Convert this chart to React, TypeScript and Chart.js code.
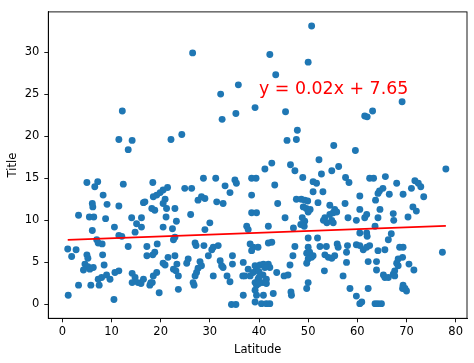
import { useEffect, useRef } from "react";
import { Chart, registerables } from "chart.js";

Chart.register(...registerables);

// Latitude (x) of each city, row bands from top to bottom
const LATITUDE = [
  12.2, 11.5, 14.2, 13.4, 26.5, 32.2, 35.8, 32.5, 35.3, 39.2, 22.1, 24.3, 50.7, 42.2, 50.0, 43.4, 45.4, 61.5, 47.8, 45.7, 47.6, 55.2, 59.6, 52.2, 42.6, 41.2, 46.4, 47.3, 52.7, 54.8, 56.2, 69.1, 62.0, 63.1, 78.0,
  5.0, 7.2, 6.6, 12.4, 18.4, 28.7, 31.2, 35.1, 35.4, 38.5, 33.1, 39.4, 48.9, 57.6, 43.2, 51.0, 51.7, 58.3, 62.5, 63.3, 65.7, 68.0, 71.7, 72.4, 72.9, 71.0,
  8.3, 19.2, 18.5, 19.9, 20.5, 21.4, 20.9, 20.5, 24.9, 26.3, 34.1, 38.5, 28.3, 29.0, 27.6, 16.5, 16.8, 6.1, 9.1, 31.4, 32.7, 51.0, 53.0, 47.6, 48.6, 49.3, 49.9, 43.8, 52.0, 57.5, 64.5, 65.2, 64.2, 66.5, 69.3, 73.5, 63.7, 60.5,
  6.2, 11.5, 18.2, 18.8, 21.2, 22.9, 3.3, 5.5, 6.4, 8.8, 14.1, 16.1, 21.1, 26.1, 38.5, 39.5, 49.0, 49.6, 50.4, 50.0, 54.4, 55.4, 55.8, 55.1, 54.4, 60.5, 64.6, 71.3, 72.0, 45.3, 48.8, 49.3, 53.4, 53.1, 58.1, 59.8, 61.5, 61.9, 64.2, 67.3, 67.4, 70.3,
  6.1, 10.6, 11.5, 12.1, 15.1, 16.1, 14.8, 23.2, 20.5, 22.4, 30.0, 29.0, 37.5, 37.8, 48.5, 49.2, 53.8, 54.8, 55.1, 41.9, 47.0, 50.0, 51.9, 63.6, 66.9, 60.5, 61.9, 62.0,
  7.0, 7.3, 8.1, 1.1, 2.8, 13.4, 17.2, 22.9, 22.6, 27.0, 27.2, 28.8, 30.4, 31.7, 30.7, 19.3, 18.8, 38.2, 38.8, 38.5, 50.0, 52.4, 53.7, 55.9, 56.1, 58.0, 59.8, 39.8, 41.9, 42.6, 47.3, 49.7, 50.3, 57.8, 66.3, 60.5, 61.2, 61.9, 62.5, 64.2, 65.6, 68.6, 69.3, 77.3,
  1.9, 5.0, 5.2, 8.2, 17.2, 8.5, 4.6, 5.2, 4.3, 5.6, 6.3, 10.7, 11.5, 29.7, 18.4, 21.5, 20.9, 20.5, 22.9, 23.3, 22.6, 23.1, 25.3, 25.6, 28.0, 28.3, 27.6, 32.1, 32.4, 32.7, 34.6, 34.6, 36.8, 37.8, 39.5, 46.9, 50.7, 50.0, 51.0, 53.4, 54.1, 54.8, 55.4, 57.8, 49.7, 39.2, 40.2, 40.9, 41.9, 42.2, 41.2, 46.3, 53.3, 69.2, 68.3, 68.0, 68.3, 67.6, 70.5, 71.5, 62.2, 63.9, 63.9,
  7.3, 8.0, 9.0, 9.7, 5.8, 3.3, 7.5, 1.2, 10.5, 14.2, 14.8, 15.4, 14.2, 16.0, 16.5, 17.8, 18.3, 23.6, 27.3, 27.0, 26.6, 26.8, 33.5, 34.1, 30.7, 38.2, 38.8, 37.1, 36.7, 39.2, 39.5, 39.8, 18.5, 19.2, 18.0, 19.7, 23.6, 36.8, 34.4, 35.3, 39.2, 39.5, 39.2, 43.6, 45.1, 45.9, 40.0, 40.8, 41.5, 40.0, 40.8, 40.0, 41.5, 57.1, 50.0, 49.7, 46.5, 46.6, 42.9, 40.9, 40.5, 41.5, 42.2, 58.5, 59.8, 60.9, 65.3, 65.6, 66.3, 67.3, 67.6, 62.2, 69.3, 69.7, 70.0, 69.2, 60.5, 63.6, 64.2, 64.9,
];

// Value (y) of each city, same order as LATITUDE
const VALUE = [
  23.0, 19.6, 19.5, 18.4, 29.9, 25.0, 26.1, 22.0, 22.7, 23.4, 19.6, 20.2, 33.1, 29.7, 28.8, 27.3, 22.9, 22.4, 20.7, 19.5, 19.6, 18.9, 18.3, 17.2, 16.8, 16.1, 16.6, 15.9, 15.5, 15.9, 16.4, 24.1, 22.3, 23.0, 16.1,
  14.5, 14.6, 14.0, 14.3, 14.5, 15.0, 15.0, 14.8, 14.4, 15.0, 14.1, 15.0, 15.1, 15.1, 14.2, 14.6, 14.4, 14.5, 15.0, 15.0, 15.2, 14.4, 14.7, 14.4, 14.0, 13.8,
  13.0, 13.0, 12.8, 13.3, 13.6, 13.9, 12.5, 12.0, 13.8, 13.8, 13.3, 13.0, 12.8, 12.6, 12.4, 12.1, 12.2, 12.0, 11.9, 12.2, 12.0, 13.4, 13.4, 12.5, 12.5, 12.4, 12.3, 12.0, 12.1, 12.0, 13.5, 13.8, 13.2, 13.1, 13.1, 12.8, 12.4, 12.9,
  11.6, 11.7, 11.4, 11.2, 11.4, 11.4, 10.6, 10.4, 10.4, 10.2, 10.3, 10.3, 10.4, 10.7, 10.9, 10.9, 11.6, 11.4, 11.3, 11.0, 11.8, 11.3, 11.0, 10.9, 10.7, 11.3, 11.3, 11.6, 11.1, 10.3, 10.3, 9.9, 10.3, 10.0, 10.3, 10.0, 10.3, 10.7, 10.3, 10.8, 10.0, 10.4,
  8.8, 9.2, 8.2, 8.1, 9.6, 9.2, 8.6, 9.9, 9.2, 9.0, 9.7, 8.9, 9.3, 8.9, 9.5, 9.3, 9.7, 10.0, 9.7, 9.3, 9.1, 7.9, 7.9, 9.3, 8.4, 8.5, 8.5, 8.1,
  7.7, 7.3, 7.2, 6.6, 6.5, 6.9, 6.9, 8.0, 7.7, 7.3, 7.0, 7.0, 6.5, 7.0, 6.8, 7.2, 6.2, 7.2, 6.8, 6.4, 6.8, 6.9, 6.9, 7.2, 6.8, 7.0, 7.1, 6.8, 7.3, 7.4, 6.9, 6.1, 6.2, 6.2, 7.7, 7.0, 6.5, 6.8, 7.0, 6.4, 6.5, 6.8, 6.8, 6.2,
  5.7, 5.9, 5.5, 5.9, 5.8, 4.7, 4.8, 4.5, 4.1, 4.2, 4.4, 3.8, 4.0, 5.8, 5.9, 5.6, 4.7, 4.9, 5.8, 4.8, 4.2, 4.0, 4.9, 5.4, 5.1, 4.6, 4.3, 5.2, 4.6, 4.4, 5.8, 4.8, 5.0, 4.2, 4.2, 5.8, 5.6, 5.4, 5.8, 5.9, 5.6, 5.5, 5.8, 5.0, 4.9, 4.6, 4.7, 4.8, 4.8, 4.4, 4.4, 4.7, 4.0, 5.6, 5.4, 4.9, 4.6, 4.0, 4.8, 4.1, 5.1, 5.1, 4.1,
  3.0, 3.2, 3.5, 3.0, 2.3, 2.3, 2.3, 1.1, 0.6, 3.7, 3.2, 2.6, 2.6, 2.5, 3.0, 2.3, 2.6, 3.4, 3.8, 3.4, 2.6, 2.3, 3.4, 2.7, 3.4, 3.4, 3.8, 3.4, 3.4, 2.6, 2.3, 3.0, 3.4, 3.8, 2.6, 1.4, 1.8, 1.1, 0.0, 0.0, 0.3, 1.1, 1.7, 3.8, 3.4, 3.5, 3.9, 3.5, 3.0, 3.2, 2.6, 2.5, 2.5, 3.4, 2.6, 1.9, 1.5, 1.1, 1.3, 1.1, 0.1, 0.1, 0.1, 1.9, 1.0, 0.3, 3.5, 3.2, 3.2, 3.6, 3.4, 1.9, 2.3, 1.9, 1.6, 1.9, 0.1, 0.1, 0.1, 0.1,
];

const X_TICKS = [0, 10, 20, 30, 40, 50, 60, 70, 80];
const Y_TICKS = [0, 5, 10, 15, 20, 25, 30];
const X_RANGE = [-2.85, 82.3];
const Y_RANGE = [-1.64, 34.77];

const SLOPE = 0.0216;
const INTERCEPT = 7.65;
const EQUATION = "y = 0.02x + 7.65";
const EQUATION_AT = [40, 25];

const X_LABEL = "Latitude";
const Y_LABEL = "Title";

const FONT = "'DejaVu Sans', sans-serif";

export default function App() {
  const ref = useRef<HTMLCanvasElement | null>(null);

  useEffect(() => {
    document.body.style.margin = "0";
    if (!ref.current) return;

    const points = LATITUDE.map((x, i) => ({ x, y: VALUE[i] }));
    const xMin = Math.min(...LATITUDE);
    const xMax = Math.max(...LATITUDE);
    const linePts = [
      { x: xMin, y: SLOPE * xMin + INTERCEPT },
      { x: xMax, y: SLOPE * xMax + INTERCEPT },
    ];

    const framePlugin = {
      id: "frame",
      afterDraw(chart: any) {
        const { ctx, chartArea } = chart;
        const { left, top, right, bottom } = chartArea;
        ctx.save();
        ctx.strokeStyle = "#000";
        ctx.lineWidth = 0.9;
        ctx.strokeRect(left, top, right - left, bottom - top);
        ctx.restore();
      },
    };

    const textPlugin = {
      id: "equation",
      afterDatasetsDraw(chart: any) {
        const { ctx, scales } = chart;
        const px = scales.x.getPixelForValue(EQUATION_AT[0]);
        const py = scales.y.getPixelForValue(EQUATION_AT[1]);
        ctx.save();
        ctx.font = `17.4px ${FONT}`;
        ctx.fillStyle = "red";
        ctx.textAlign = "left";
        ctx.textBaseline = "alphabetic";
        ctx.fillText(EQUATION, px, py);
        ctx.restore();
      },
    };

    const tickFont = { family: FONT, size: 11.5 };

    const chart = new Chart(ref.current, {
      type: "scatter",
      data: {
        datasets: [
          {
            type: "scatter",
            data: points,
            backgroundColor: "#1f77b4",
            borderWidth: 0,
            pointRadius: 3.45,
            pointHoverRadius: 3.45,
            order: 2,
          },
          {
            type: "line",
            data: linePts,
            borderColor: "red",
            borderWidth: 1.7,
            pointRadius: 0,
            fill: false,
            order: 1,
          } as any,
        ],
      },
      plugins: [framePlugin, textPlugin],
      options: {
        animation: false,
        responsive: false,
        devicePixelRatio: 1,
        layout: { padding: { top: 7.7, right: 7, bottom: 0, left: 0 } },
        plugins: { legend: { display: false }, tooltip: { enabled: false } },
        scales: {
          x: {
            type: "linear",
            min: X_RANGE[0],
            max: X_RANGE[1],
            afterBuildTicks: (s: any) => {
              s.ticks = X_TICKS.map((v) => ({ value: v }));
            },
            afterFit: (s: any) => {
              s.height = 44.7;
            },
            ticks: { font: tickFont, color: "#000", padding: 3, maxRotation: 0, autoSkip: false },
            grid: { drawOnChartArea: false, drawTicks: true, tickLength: 4, tickColor: "#000", tickWidth: 0.9 },
            border: { display: true, color: "#000", width: 0.9 },
            title: { display: true, text: X_LABEL, color: "#000", font: tickFont, padding: { top: 0, bottom: 6.5 } },
          },
          y: {
            type: "linear",
            min: Y_RANGE[0],
            max: Y_RANGE[1],
            afterBuildTicks: (s: any) => {
              s.ticks = Y_TICKS.map((v) => ({ value: v }));
            },
            afterFit: (s: any) => {
              s.width = 48.3;
            },
            ticks: { font: tickFont, color: "#000", padding: 5, autoSkip: false },
            grid: { drawOnChartArea: false, drawTicks: true, tickLength: 4, tickColor: "#000", tickWidth: 0.9 },
            border: { display: true, color: "#000", width: 0.9 },
            title: { display: true, text: Y_LABEL, color: "#000", font: tickFont, padding: { top: 6, bottom: 0 } },
          },
        },
      },
    });

    return () => chart.destroy();
  }, []);

  return (
    <div style={{ width: 474, height: 363 }}>
      <canvas ref={ref} width={474} height={363} />
    </div>
  );
}
